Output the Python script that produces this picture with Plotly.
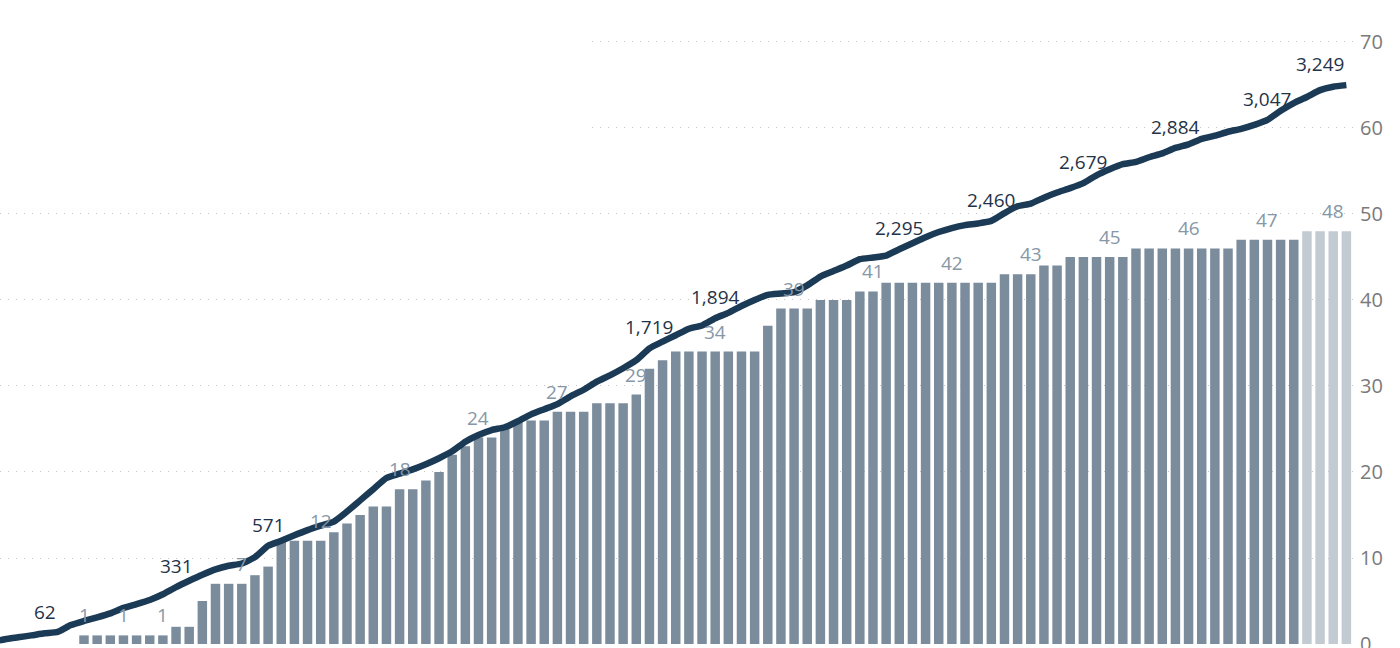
import plotly.graph_objects as go

# ---- data ----
days = list(range(104))

bar_values = [0] * 7 + [
    1, 1, 1, 1, 1, 1, 1, 2, 2, 5, 7, 7, 7, 8, 9, 12, 12, 12, 12, 13, 14, 15, 16, 16,
    18, 18, 19, 20, 22, 23, 24, 24, 25, 26, 26, 26, 27, 27, 27, 28, 28, 28, 29, 32, 33,
    34, 34, 34, 34, 34, 34, 34, 37, 39, 39, 39, 40, 40, 40, 41, 41,
    42, 42, 42, 42, 42, 42, 42, 42, 42, 43, 43, 43, 44, 44, 45, 45, 45, 45, 45,
    46, 46, 46, 46, 46, 46, 46, 46, 47, 47, 47, 47, 47, 48, 48, 48, 48,
]
bar_is_partial = [False] * 100 + [True] * 4

line_values = [
    12, 28, 39, 50, 62, 70, 110,
    134, 155, 178, 210, 232, 256, 289, 331, 368, 403, 434, 455, 468, 505, 571, 600,
    632, 662, 688, 712, 770, 835, 900, 965, 990, 1015, 1045, 1080, 1120, 1176, 1215,
    1244, 1260, 1295, 1335, 1365, 1395, 1440, 1478, 1525, 1562, 1603, 1650, 1719,
    1758, 1795, 1833, 1852, 1894, 1925, 1965, 2000, 2030, 2038, 2046, 2085, 2136,
    2168, 2200, 2237, 2247, 2258, 2295, 2330, 2365, 2395, 2418, 2435, 2445, 2460,
    2505, 2545, 2560, 2595, 2625, 2650, 2679, 2725, 2760, 2790, 2803, 2830, 2852,
    2884, 2905, 2937, 2955, 2978, 2995, 3018, 3047, 3100, 3145, 3180, 3220, 3240, 3249,
]

line_label_idx = [0, 4, 14, 21, 50, 55, 69, 76, 83, 90, 97, 103]
bar_label_idx = [7, 10, 13, 19, 25, 31, 37, 43, 49, 55, 61, 67, 73, 79, 85, 91, 97, 103]

right_ticks = [0, 10, 20, 30, 40, 50, 60, 70]

# ---- styles ----
BAR_COLOR = "#7b8c9c"
BAR_LIGHT = "#c2cad2"
LINE_COLOR = "#1b3a56"
LINE_LABEL = "#1f3349"
BAR_LABEL = "#8697a7"
FONT = "Segoe UI, Open Sans, sans-serif"
Y_MAX = 74.88
RATIO = 50

fig = go.Figure()
fig.add_trace(go.Bar(
    x=days, y=bar_values,
    marker=dict(color=[BAR_LIGHT if p else BAR_COLOR for p in bar_is_partial], line=dict(width=0)),
    yaxis="y", hoverinfo="skip", showlegend=False,
))
fig.add_trace(go.Scatter(
    x=days, y=line_values, mode="lines",
    line=dict(color=LINE_COLOR, width=6.5, shape="spline", smoothing=0.5),
    yaxis="y2", hoverinfo="skip", showlegend=False,
))

annotations = []
for i in line_label_idx:
    last = i == days[-1]
    annotations.append(dict(
        x=days[i], y=line_values[i], xref="x", yref="y2",
        text=f"{line_values[i]:,}", showarrow=False,
        xanchor="right" if last else "center", yanchor="middle", yshift=21,
        font=dict(family=FONT, size=19, color=LINE_LABEL),
    ))
for i in bar_label_idx:
    last = i == days[-1]
    annotations.append(dict(
        x=days[i], y=bar_values[i], xref="x", yref="y",
        text=str(bar_values[i]), showarrow=False,
        xanchor="right" if last else "center", yanchor="middle", yshift=20,
        font=dict(family=FONT, size=19, color=BAR_LABEL),
    ))

fig.update_layout(
    width=1400, height=648,
    margin=dict(l=0, r=46, t=0, b=4, autoexpand=False),
    paper_bgcolor="white", plot_bgcolor="white",
    bargap=0.28,
    showlegend=False,
    xaxis=dict(range=[0.612, 103.58], visible=False, showgrid=False, zeroline=False,
               automargin=False),
    yaxis=dict(
        side="right", range=[0, Y_MAX], tickvals=right_ticks,
        showgrid=True, gridcolor="#c4c4c4", gridwidth=1, griddash="1px,7px",
        zeroline=False, showline=False, ticks="",
        tickfont=dict(family=FONT, size=20, color="#7a7a7a"),
        ticklabelstandoff=5, ticklabeloverflow="allow", automargin=False,
    ),
    yaxis2=dict(
        overlaying="y", side="left", range=[0, Y_MAX * RATIO],
        visible=False, showgrid=False, zeroline=False, automargin=False,
    ),
    annotations=annotations,
    shapes=[dict(
        type="rect", xref="paper", yref="paper",
        x0=0, x1=0.432, y0=0.74, y1=1.0,
        fillcolor="white", line=dict(width=0), layer="above",
    )],
)

fig.write_html("out.html")
